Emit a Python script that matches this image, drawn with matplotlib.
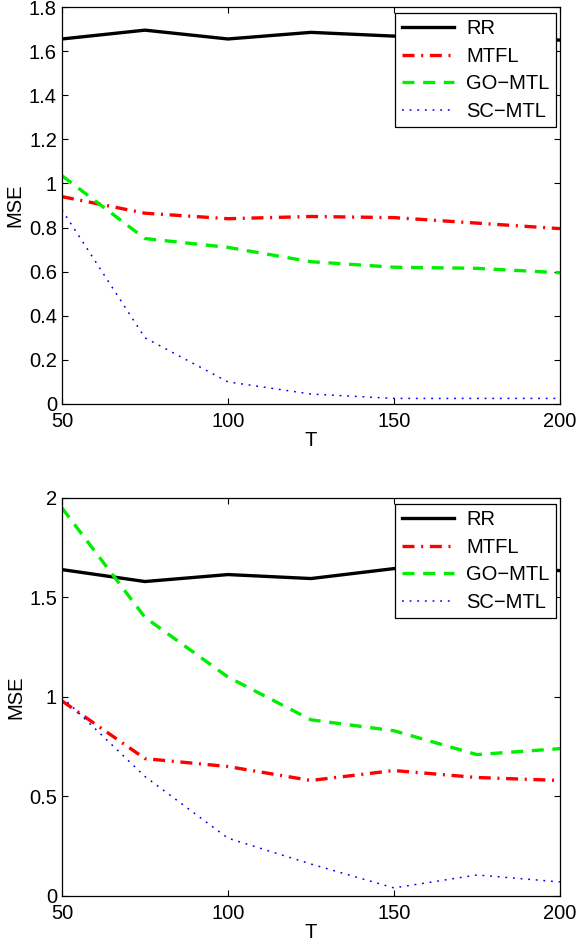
import matplotlib
matplotlib.use("Agg")
import matplotlib.pyplot as plt
from matplotlib.ticker import FormatStrFormatter

plt.rcParams['font.family'] = ['Liberation Sans', 'DejaVu Sans']
plt.rcParams['font.size'] = 14.5

# number of tasks
T = [50, 75, 100, 125, 150, 175, 200]

# top panel
rr_top = [1.655, 1.695, 1.655, 1.685, 1.668, 1.66, 1.65]
mtfl_top = [0.94, 0.865, 0.84, 0.85, 0.845, 0.82, 0.795]
gomtl_top = [1.035, 0.75, 0.71, 0.645, 0.62, 0.615, 0.595]
scmtl_top = [0.88, 0.30, 0.10, 0.045, 0.025, 0.025, 0.025]
yticks_top = [0, 0.2, 0.4, 0.6, 0.8, 1.0, 1.2, 1.4, 1.6, 1.8]

# bottom panel
rr_bot = [1.64, 1.58, 1.615, 1.595, 1.645, 1.65, 1.635]
mtfl_bot = [0.98, 0.69, 0.65, 0.58, 0.63, 0.595, 0.58]
gomtl_bot = [1.95, 1.40, 1.10, 0.885, 0.83, 0.71, 0.74]
scmtl_bot = [1.0, 0.60, 0.29, 0.16, 0.04, 0.105, 0.07]
yticks_bot = [0, 0.5, 1.0, 1.5, 2.0]

labels = ['RR', 'MTFL', 'GO\u2212MTL', 'SC\u2212MTL']
xticks = [50, 100, 150, 200]

fig = plt.figure(figsize=(5.79, 9.46), dpi=100)
ax1 = fig.add_axes([0.107, 0.573, 0.860, 0.4196])
ax2 = fig.add_axes([0.107, 0.053, 0.860, 0.4206])


def draw(ax, rr, mtfl, gomtl, scmtl, yticks, ymax):
    ax.plot(T, rr, color='black', lw=2.4, label=labels[0])
    ax.plot(T, mtfl, color='red', lw=2.4, dashes=(3.6, 2.0, 0.6, 2.0), label=labels[1])
    ax.plot(T, gomtl, color='#00ee00', lw=2.4, dashes=(3.6, 2.6), label=labels[2])
    ax.plot(T, scmtl, color='blue', lw=1.1, dashes=(1.2, 3.8), label=labels[3])
    ax.set_xlim(50, 200)
    ax.set_ylim(0, ymax)
    ax.set_xticks(xticks)
    ax.set_yticks(yticks)
    ax.yaxis.set_major_formatter(FormatStrFormatter('%g'))
    ax.tick_params(direction='in', top=True, right=True, length=4, width=0.8,
                   labelsize=14.5)
    ax.tick_params(axis='x', pad=5.5)
    ax.tick_params(axis='y', pad=3.6)
    for s in ax.spines.values():
        s.set_linewidth(0.9)
    ax.set_xlabel('T', fontsize=14.5, labelpad=0)
    ax.set_ylabel('MSE', fontsize=14.5, labelpad=3)
    leg = ax.legend(loc='upper right', bbox_to_anchor=(0.992, 0.985),
                    fancybox=False, framealpha=1, edgecolor='black',
                    handlelength=2.6, labelspacing=0.42, borderpad=0.32,
                    handletextpad=0.6, borderaxespad=0, fontsize=14.5)
    leg.get_frame().set_linewidth(0.9)


draw(ax1, rr_top, mtfl_top, gomtl_top, scmtl_top, yticks_top, 1.8)
draw(ax2, rr_bot, mtfl_bot, gomtl_bot, scmtl_bot, yticks_bot, 2.0)

fig.savefig('out.png', dpi=100)
